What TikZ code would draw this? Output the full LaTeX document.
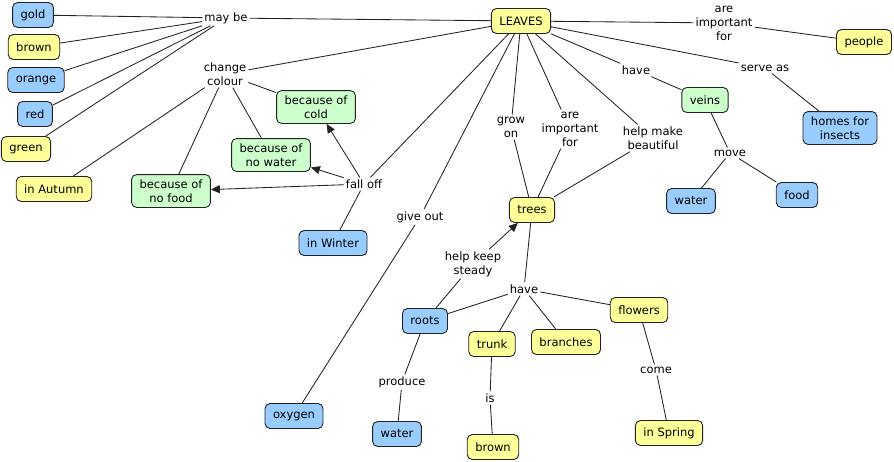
\documentclass[tikz,border=0pt]{standalone}
\usepackage{fontspec}
\setmainfont{DejaVu Sans}
\usetikzlibrary{arrows.meta}
\definecolor{cyel}{HTML}{FFFF99}
\definecolor{cblu}{HTML}{99CCFF}
\definecolor{cgrn}{HTML}{CCFFCC}
\definecolor{cline}{HTML}{222222}

\begin{document}
\begin{tikzpicture}[x=1pt,y=-1pt,
		concept/.style={draw=cline, line width=0.9pt, rounded corners=5pt, inner xsep=8pt, inner ysep=5pt, minimum height=25pt, align=center, font=\fontsize{11.5}{14}\selectfont},
		yel/.style={concept, fill=cyel},
		blu/.style={concept, fill=cblu},
		grn/.style={concept, fill=cgrn},
		phrase/.style={inner sep=2pt, align=center, font=\fontsize{11.5}{14}\selectfont},
		link/.style={draw=cline, line width=0.85pt},
		arr/.style={link, -{Triangle[length=9pt,width=8pt]}}]
			\useasboundingbox (0,0) rectangle (894,461);
			
			\node[yel] (leaves) at (521,21) {LEAVES};
			\node[blu] (gold) at (33,15) {gold};
			\node[yel] (brownA) at (34,47) {brown};
			\node[blu] (orange) at (36,80) {orange};
			\node[blu] (red) at (35,114) {red};
			\node[yel] (green) at (26,149) {green};
			\node[yel] (autumn) at (54,189) {in Autumn};
			\node[grn] (nofood) at (171,191) {because of\\no food};
			\node[grn] (nowater) at (271,155) {because of\\no water};
			\node[grn] (cold) at (316,107) {because of\\cold};
			\node[blu] (winter) at (333,243) {in Winter};
			\node[yel] (people) at (864,42) {people};
			\node[grn] (veins) at (705,100) {veins};
			\node[blu] (homes) at (840,128) {homes for\\insects};
			\node[blu] (waterA) at (691,201) {water};
			\node[blu] (food) at (797,195) {food};
			\node[yel] (trees) at (532,210) {trees};
			\node[blu] (roots) at (425,321) {roots};
			\node[yel] (trunk) at (492,344) {trunk};
			\node[yel] (branches) at (566,342) {branches};
			\node[yel] (flowers) at (639,310) {flowers};
			\node[blu] (oxygen) at (294,416) {oxygen};
			\node[blu] (waterB) at (397,434) {water};
			\node[yel] (brownB) at (493,447) {brown};
			\node[yel] (spring) at (669,433) {in Spring};
			
			\node[phrase] (maybe) at (226,18) {may be};
			\node[phrase] (change) at (225,74) {change\\colour};
			\node[phrase] (falloff) at (364,184) {fall off};
			\node[phrase] (giveout) at (420,217) {give out};
			\node[phrase] (growon) at (511,127) {grow\\on};
			\node[phrase] (imptrees) at (570,129) {are\\important\\for};
			\node[phrase] (beautiful) at (653,138) {help make\\beautiful};
			\node[phrase] (haveA) at (636,70) {have};
			\node[phrase] (serve) at (765,68) {serve as};
			\node[phrase] (imppeople) at (724,23) {are\\important\\for};
			\node[phrase] (move) at (730,153) {move};
			\node[phrase] (steady) at (473,264) {help keep\\steady};
			\node[phrase] (haveB) at (524,289) {have};
			\node[phrase] (produce) at (402,382) {produce};
			\node[phrase] (is) at (490,398) {is};
			\node[phrase] (come) at (656,370) {come};
			
			\draw[link] (leaves) -- (maybe);
			\draw[link] (maybe) -- (gold) (maybe) -- (brownA) (maybe) -- (orange) (maybe) -- (red) (maybe) -- (green);
			\draw[link] (leaves) -- (change);
			\draw[link] (change) -- (autumn) (change) -- (nofood) (change) -- (nowater) (change) -- (cold);
			\draw[link] (leaves) -- (falloff);
			\draw[link] (winter) -- (falloff);
			\draw[arr] (falloff) -- (cold);
			\draw[arr] (falloff) -- (nowater);
			\draw[arr] (falloff) -- (nofood);
			\draw[link] (leaves) -- (giveout) -- (oxygen);
			\draw[link] (leaves) -- (growon) -- (trees);
			\draw[link] (leaves) -- (imptrees) -- (trees);
			\draw[link] (leaves) -- (beautiful) -- (trees);
			\draw[link] (leaves) -- (haveA) -- (veins);
			\draw[link] (veins) -- (move);
			\draw[link] (move) -- (waterA) (move) -- (food);
			\draw[link] (leaves) -- (serve) -- (homes);
			\draw[link] (leaves) -- (imppeople) -- (people);
			\draw[link] (trees) -- (haveB);
			\draw[link] (haveB) -- (roots) (haveB) -- (trunk) (haveB) -- (branches) (haveB) -- (flowers);
			\draw[link] (roots) -- (steady);
			\draw[arr] (steady) -- (trees);
			\draw[link] (roots) -- (produce) -- (waterB);
			\draw[link] (trunk) -- (is) -- (brownB);
			\draw[link] (flowers) -- (come) -- (spring);
		\end{tikzpicture}
\end{document}
